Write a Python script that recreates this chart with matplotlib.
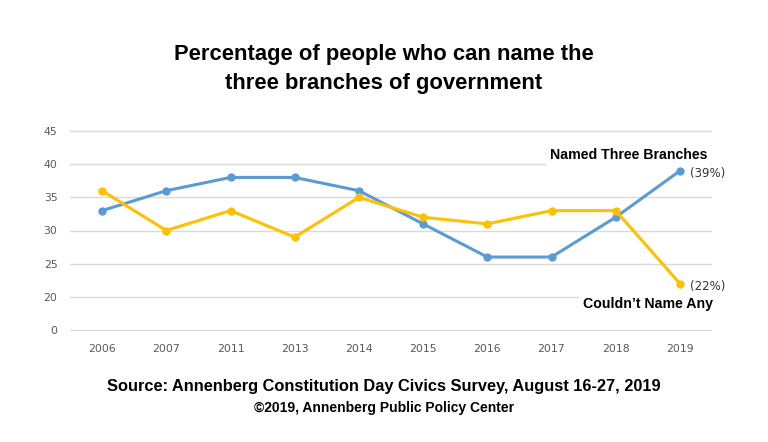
import numpy as np
import matplotlib
matplotlib.use("Agg")
import matplotlib.pyplot as plt

years = ["2006", "2007", "2011", "2013", "2014", "2015", "2016", "2017", "2018", "2019"]
named_three = [33, 36, 38, 38, 36, 31, 26, 26, 32, 39]
couldnt_name = [36, 30, 33, 29, 35, 32, 31, 33, 33, 22]
ytick_vals = [15, 20, 25, 30, 35, 40, 45]
ytick_labels = ["0", "20", "25", "30", "35", "40", "45"]  # broken axis: 15 drawn as 0

bold_font = ["Liberation Sans", "DejaVu Sans"]
blue = "#5B9BD5"
yellow = "#FFC000"

fig = plt.figure(figsize=(7.68, 4.42), dpi=100)
# 15 -> y=330px, 45 -> y=131px; pad the limits a little so edge gridlines show fully
ax = fig.add_axes([70/768, (442-331.33)/442, (712-70)/768, (331.33-129.67)/442])

x = np.arange(len(years))
ax.plot(x, named_three, color=blue, lw=2.2, marker="o", ms=5, zorder=3)
ax.plot(x, couldnt_name, color=yellow, lw=2.2, marker="o", ms=5, zorder=3)

ax.set_xlim(-0.5, len(years) - 0.5)
ax.set_ylim(14.8, 45.2)
ax.set_yticks(ytick_vals)
ax.set_yticklabels(ytick_labels)
ax.set_xticks(x)
ax.set_xticklabels(years)
ax.grid(axis="y", color="#d9d9d9", lw=1)
ax.set_axisbelow(True)
for s in ax.spines.values():
    s.set_visible(False)
ax.tick_params(length=0, colors="#595959", labelsize=7.8, pad=9)
ax.tick_params(axis="y", pad=9)

# series labels
ax.text(8.2, 41.4, "Named Three Branches", ha="center", va="center", fontsize=10.2,
        fontweight="bold", family=bold_font, zorder=4,
        bbox=dict(facecolor="white", edgecolor="none", pad=3))
ax.text(9.15, 38.6, "(39%)", ha="left", va="center", fontsize=8.5, color="#333333")
ax.text(9.15, 21.6, "(22%)", ha="left", va="center", fontsize=8.5, color="#333333")
ax.text(8.5, 18.9, "Couldn\u2019t Name Any", ha="center", va="center", fontsize=10.2,
        fontweight="bold", family=bold_font, zorder=4,
        bbox=dict(facecolor="white", edgecolor="none", pad=3))

fig.text(0.5, 1 - 69/442, "Percentage of people who can name the\nthree branches of government",
         ha="center", va="center", fontsize=15.8, fontweight="bold", family=bold_font,
         linespacing=1.45)
fig.text(0.5, 1 - 386/442, "Source: Annenberg Constitution Day Civics Survey, August 16-27, 2019",
         ha="center", va="center", fontsize=11.8, fontweight="bold", family=bold_font)
fig.text(0.5, 1 - 408/442, "\u00a92019, Annenberg Public Policy Center",
         ha="center", va="center", fontsize=10, fontweight="bold", family=bold_font)

fig.savefig("out.png", dpi=100)
